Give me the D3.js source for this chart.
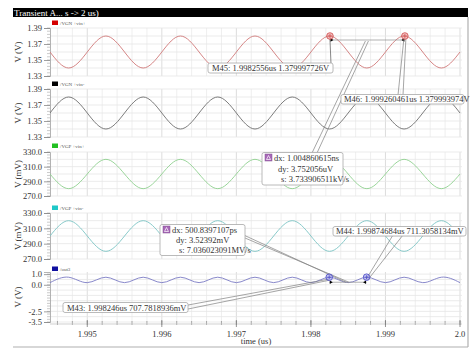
<!DOCTYPE html>
<html><head><meta charset="utf-8">
<script src="https://cdn.jsdelivr.net/npm/d3@7"></script>
<style>html,body{margin:0;padding:0;background:#fff;}svg{display:block;font-family:"Liberation Serif","Times New Roman",serif;}</style>
</head><body><svg id="c" width="474" height="356"></svg>
<script>
// ---- data ----
const times = [1.99450,1.99475,1.99500,1.99525,1.99550,1.99575,1.99600,1.99625,1.99650,1.99675,1.99700,1.99725,1.99750,1.99775,1.99800,1.99825,1.99850,1.99875,1.99900,1.99925,1.99950,1.99975,2.00000];
const vgnPlus  = [1.36,1.34,1.36,1.38,1.36,1.34,1.36,1.38,1.36,1.34,1.36,1.38,1.36,1.34,1.36,1.38,1.36,1.34,1.36,1.38,1.36,1.34,1.36];
const vgnMinus = [1.36,1.38,1.36,1.34,1.36,1.38,1.36,1.34,1.36,1.38,1.36,1.34,1.36,1.38,1.36,1.34,1.36,1.38,1.36,1.34,1.36,1.38,1.36];
const vgpPlus  = [300,280,300,320,300,280,300,320,300,280,300,320,300,280,300,320,300,280,300,320,300,280,300];
const vgpMinus = [300,320,300,280,300,320,300,280,300,320,300,280,300,320,300,280,300,320,300,280,300,320,300];
const out3     = [0.20,0.71,0.20,0.71,0.20,0.71,0.20,0.71,0.20,0.71,0.20,0.71,0.20,0.71,0.20,0.708,0.20,0.711,0.20,0.71,0.20,0.71,0.20];
const xTicks = [1.995,1.996,1.997,1.998,1.999,2.0];
const xTickLabels = ["1.995","1.996","1.997","1.998","1.999","2.0"];
const seriesNames = ["/VGN +vin+","/VGN +vin-","/VGP +vin+","/VGP +vin-","/out3"];
const yTicksV = [1.33,1.35,1.37,1.39];
const yTicksMV = [270,290,310,330];
const yTicksOut = [-3.5,-2.5,0.0,1.0];
const yTitles = ["V (V)","V (V)","V (mV)","V (mV)","V (V)"];
const markerNames = ["M45","M46","M43","M44"];
const markerTimes = [1.9982556,1.999260461,1.998246,1.99874684];
const markerValues = [1.379997726,1.379993974,0.7077818936,0.7113058134];
const markerLabels = ["M45: 1.9982556us 1.379997726V","M46: 1.999260461us 1.379993974V","M43: 1.998246us 707.7818936mV","M44: 1.99874684us 711.3058134mV"];
const deltaA = ["dx: 1.004860615ns","dy: 3.752056uV","s: 3.733906511kV/s"];
const deltaB = ["dx: 500.8397107ps","dy: 3.52392mV","s: 7.036023091MV/s"];
const titleText = "Transient A... s -> 2 us)";
const xTitle = "time (us)";

// ---- layout ----
const svg = d3.select("#c");
const X0 = 50, X1 = 460;
const x = d3.scaleLinear().domain([1.9945, 2.0]).range([X0, X1]);
const f2 = d3.format(".2f"), f1 = d3.format(".1f");
const hy = f => (d => f(d).replace("\u2212", "-"));
const panels = [
  {vals:vgnPlus, top:28, bottom:76, domain:[1.33,1.39], ticks:yTicksV, fmt:hy(f2), grid:0.01, minor:0.004, color:"#d07878", key:"#d40000", legendY:23},
  {vals:vgnMinus, top:89, bottom:137, domain:[1.33,1.39], ticks:yTicksV, fmt:hy(f2), grid:0.01, minor:0.004, color:"#6e6e6e", key:"#000000", legendY:84},
  {vals:vgpPlus, top:152, bottom:196, domain:[270,330], ticks:yTicksMV, fmt:hy(f1), grid:10, minor:4, color:"#8ed08e", key:"#22c022", legendY:146},
  {vals:vgpMinus, top:213, bottom:259, domain:[270,330], ticks:yTicksMV, fmt:hy(f1), grid:10, minor:4, color:"#7cc4c4", key:"#20c8c8", legendY:208},
  {vals:out3, top:272, bottom:322, domain:[-3.5,1.2], ticks:yTicksOut, fmt:hy(f1), grid:0.5, minor:0.25, color:"#7a7ac4", key:"#1010a0", legendY:269}
];

// frame
svg.append("rect").attr("x",13).attr("y",8).attr("width",455).attr("height",9).attr("fill","#000");
svg.append("text").attr("x",14).attr("y",15.5).attr("fill","#fff").attr("font-size",9).text(titleText);
svg.append("line").attr("x1",468).attr("x2",468).attr("y1",17).attr("y2",347).attr("stroke","#b0b0b0").attr("stroke-width",1.2);
svg.append("line").attr("x1",13).attr("x2",468).attr("y1",347).attr("y2",347).attr("stroke","#b0b0b0").attr("stroke-width",1.2);

const vGrid = d3.range(1.9946, 2.00001, 0.0002);

panels.forEach((p, i) => {
  const y = d3.scaleLinear().domain(p.domain).range([p.bottom, p.top]);
  p.y = y;
  const g = svg.append("g");
  // grid
  g.selectAll(".vg").data(vGrid).join("line")
    .attr("x1", d => x(d)).attr("x2", d => x(d)).attr("y1", p.top).attr("y2", p.bottom)
    .attr("stroke", d => Math.abs(Math.round(d*1000)/1000 - d) < 1e-7 ? "#d4d4d4" : "#ebebeb").attr("stroke-width", 0.8);
  const hg = d3.range(p.domain[0], p.domain[1] + 1e-9, p.grid);
  g.selectAll(".hg").data(hg).join("line")
    .attr("x1", X0).attr("x2", X1 + 2).attr("y1", d => y(d)).attr("y2", d => y(d))
    .attr("stroke", "#e6e6e6").attr("stroke-width", 0.8);
  // y axis minor ticks
  const mt = d3.range(p.domain[0], p.domain[1] + 1e-9, p.minor);
  g.selectAll(".mt").data(mt).join("line")
    .attr("x1", X0 - 3).attr("x2", X0).attr("y1", d => y(d)).attr("y2", d => y(d))
    .attr("stroke", "#a8a8a8").attr("stroke-width", 0.6);
  const ax = g.append("g").attr("transform", `translate(${X0},0)`)
    .call(d3.axisLeft(y).tickValues(p.ticks).tickFormat(p.fmt).tickSize(6).tickPadding(2));
  ax.select(".domain").attr("stroke", "#a0a0a0").attr("stroke-width", 0.8);
  ax.selectAll(".tick line").attr("stroke", "#888").attr("stroke-width", 0.8);
  ax.selectAll(".tick text").attr("font-size", 8.5).attr("fill", "#333").attr("font-family", "Liberation Serif");
  // curve
  const line = d3.line().x((d, j) => x(times[j])).y(d => y(d)).curve(d3.curveNatural);
  g.append("path").datum(p.vals).attr("d", line).attr("fill", "none")
    .attr("stroke", p.color).attr("stroke-width", 0.9);
  // legend
  g.append("rect").attr("x", 52).attr("y", p.legendY - 2.5).attr("width", 6).attr("height", 4.5).attr("fill", p.key);
  g.append("text").attr("x", 60).attr("y", p.legendY + 1.5).attr("font-size", 5).attr("fill", "#555").text(seriesNames[i]);
  // y title
  g.append("text").attr("transform", `translate(21,${(p.top + p.bottom) / 2}) rotate(-90)`)
    .attr("text-anchor", "middle").attr("font-size", 9).attr("fill", "#333").text(yTitles[i]);
});

// x axis
const xa = svg.append("g").attr("transform", "translate(0,324)");
const minorX = d3.range(1.9946, 2.00001, 0.0002);
xa.selectAll(".mx").data(minorX).join("line")
  .attr("x1", d => x(d)).attr("x2", d => x(d)).attr("y1", -3).attr("y2", 1)
  .attr("stroke", "#888").attr("stroke-width", 0.7);
xa.append("line").attr("x1", X0).attr("x2", X1 + 2).attr("y1", 0).attr("y2", 0).attr("stroke", "#bbb").attr("stroke-width", 0.7);
xa.selectAll(".xt").data(xTicks).join("line")
  .attr("x1", d => x(d)).attr("x2", d => x(d)).attr("y1", -4).attr("y2", 3)
  .attr("stroke", "#777").attr("stroke-width", 0.8);
xa.selectAll(".xl").data(xTicks).join("text")
  .attr("x", d => x(d)).attr("y", 13).attr("text-anchor", "middle")
  .attr("font-size", 8.5).attr("fill", "#333").text((d, i) => xTickLabels[i]);
svg.append("text").attr("x", 256).attr("y", 344).attr("text-anchor", "middle").attr("font-size", 8.5).attr("fill", "#333").text(xTitle);

// ---- annotations ----
const ann = svg.append("g");
function box(x0, y0, w, h) {
  ann.append("rect").attr("x", x0).attr("y", y0).attr("width", w).attr("height", h).attr("rx", 2)
    .attr("fill", "#fff").attr("stroke", "#a8a8a8").attr("stroke-width", 0.8);
}
function ln(x1, y1, x2, y2, c) {
  ann.append("line").attr("x1", x1).attr("y1", y1).attr("x2", x2).attr("y2", y2)
    .attr("stroke", c || "#808080").attr("stroke-width", 0.7);
}
function txt(x0, y0, s) {
  ann.append("text").attr("x", x0).attr("y", y0).attr("font-size", 8.5).attr("fill", "#333").text(s);
}
function icon(x0, y0) {
  ann.append("rect").attr("x", x0).attr("y", y0).attr("width", 7).attr("height", 7).attr("fill", "#a868b8").attr("stroke", "#805090").attr("stroke-width", 0.5);
  ann.append("path").attr("d", `M${x0+1.5},${y0+5.5}L${x0+3.5},${y0+1.5}L${x0+5.5},${y0+5.5}Z`).attr("fill", "none").attr("stroke", "#fff").attr("stroke-width", 0.7);
}
function arrow(px, py, dir) {
  ann.append("path").attr("d", `M${px},${py-1.8}L${px+dir*3},${py}L${px},${py+1.8}Z`).attr("fill", "#000");
}

const mp = markerTimes.map((t, i) => {
  const p = i < 2 ? panels[0] : panels[4];
  return [x(t), p.y(markerValues[i])];
});

// delta line top panel
const dy1 = mp[0][1] + 4;
ln(mp[0][0], dy1, mp[1][0], dy1, "#909090");
arrow(mp[0][0] + 0.5, dy1, 1); arrow(mp[1][0] - 0.5, dy1, -1);
// delta line bottom panel
const dy2 = mp[2][1] + 5;
ln(mp[2][0], dy2, mp[3][0], dy2, "#909090");
arrow(mp[2][0] + 0.5, dy2, 1); arrow(mp[3][0] - 0.5, dy2, -1);

// leaders
ln(mp[0][0], mp[0][1] + 3, mp[0][0] + 1, 63, "#555");
ln(mp[1][0] - 1, mp[1][1] + 3, 398, 95); ln(mp[1][0] + 1, mp[1][1] + 3, 403, 95);
const m1 = (mp[0][0] + mp[1][0]) / 2;
ln(m1 - 2, dy1 + 1, 312, 153); ln(m1 + 1, dy1 + 1, 317, 153);
const m2 = (mp[2][0] + mp[3][0]) / 2;
ln(235, 231, m2 - 2, dy2); ln(245, 238, m2 + 1, dy2);
ln(188, 305, mp[2][0] - 1, mp[2][1] + 2); ln(188, 309, mp[2][0], mp[2][1] + 3);
ln(393, 235, mp[3][0] - 1, mp[3][1] + 3); ln(403, 235, mp[3][0] + 1, mp[3][1] + 3);

// marker symbols
mp.forEach((m, i) => {
  const c = i < 2 ? "#d04848" : "#4848c8";
  const f = i < 2 ? "rgba(230,140,140,0.55)" : "rgba(150,150,230,0.55)";
  ann.append("circle").attr("cx", m[0]).attr("cy", m[1]).attr("r", 3.3).attr("fill", f).attr("stroke", c).attr("stroke-width", 0.8);
  ln(m[0] - 2, m[1], m[0] + 2, m[1], c); ln(m[0], m[1] - 2, m[0], m[1] + 2, c);
});

// label boxes
box(208, 63, 125, 10); txt(212, 71, markerLabels[0]);
box(341, 94.5, 123, 9.5); txt(344, 102, markerLabels[1]);
box(63, 302.5, 125, 10); txt(67, 310.5, markerLabels[2]);
box(333, 226.5, 133, 9.5); txt(336, 234, markerLabels[3]);

box(262, 152.5, 81, 32.5); icon(265, 154);
txt(274, 161, deltaA[0]); txt(278, 171.5, deltaA[1]); txt(281, 182, deltaA[2]);
box(160, 224.5, 85, 31); icon(163, 226);
txt(172, 233, deltaB[0]); txt(176, 243, deltaB[1]); txt(179, 253, deltaB[2]);
</script></body></html>
